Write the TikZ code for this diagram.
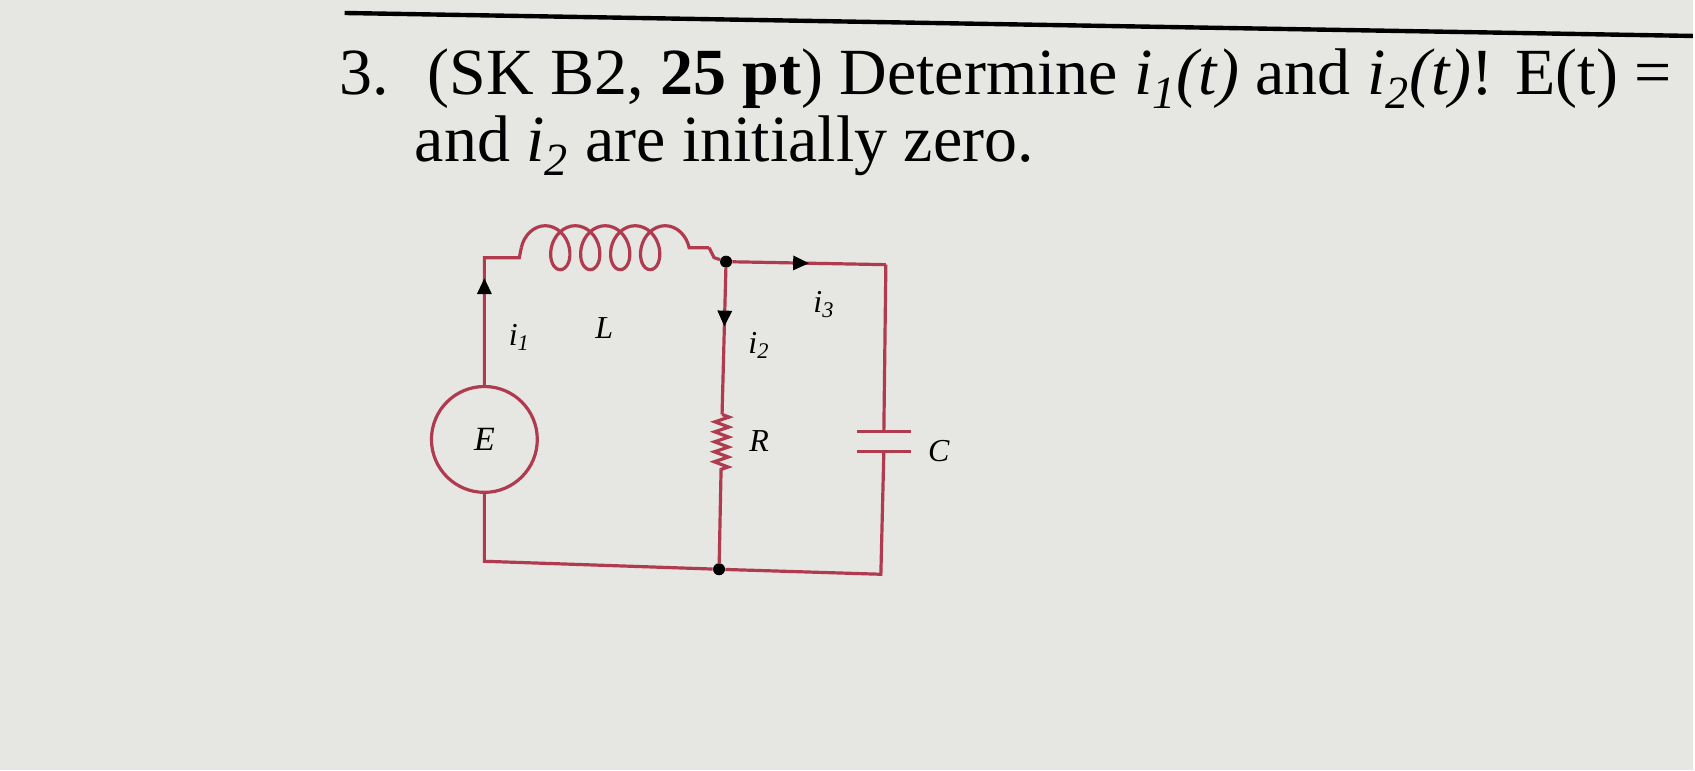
\documentclass[tikz,border=0pt]{standalone}
\usepackage{fontspec}
\setmainfont{Liberation Serif}
\usetikzlibrary{decorations.pathmorphing,arrows.meta,decorations.markings}
\definecolor{wire}{HTML}{B03A4E}
\definecolor{bg}{HTML}{E6E6E2}
\begin{document}
\begin{tikzpicture}[x=0.5pt,y=-0.5pt,
  w/.style={draw=wire,line width=1.6pt},
  lbl/.style={font=\fontsize{16}{18}\selectfont\itshape},
  dot/.style={circle,fill=black,inner sep=0pt,minimum size=6pt},
  arr/.style={postaction={decorate},decoration={markings,mark=at position #1 with {\arrow[black]{Triangle[length=8pt,width=7pt]}}}}]
\fill[bg] (0,0) rectangle (1695,771);
\draw[line width=2.2pt] (345,13) -- (1695,36);
\node[anchor=base west,inner sep=0,font=\fontsize{33}{36}\selectfont] (t1) at (340,95) {3. \ (SK B2, \textbf{25 pt}) Determine \textit{i\textsubscript{1}(t)} and \textit{i\textsubscript{2}(t)}! E(t) =};
\node[anchor=base west,inner sep=0,font=\fontsize{33}{36}\selectfont] (t2) at (415,162) {and \textit{i\textsubscript{2}} are initially zero.};
% nodes
\coordinate (tl) at (485,258);
\coordinate (ls) at (520,258);
\coordinate (cs) at (522,248);
\coordinate (ce) at (710,248);
\coordinate (le) at (715,258);
\node[dot] (nt) at (727,262) {};
\coordinate (tr) at (887,265);
\coordinate (br) at (882,575);
\node[dot] (nb) at (720,570) {};
\coordinate (bl) at (485,562);
\node[circle,draw=wire,line width=1.6pt,minimum size=53pt,inner sep=0,font=\fontsize{17}{18}\selectfont\itshape] (E) at (485,440) {E};
% wires
\draw[w,arr=0.62] (E.north) -- (tl) -- (ls) -- (cs);
\draw[w,decorate,decoration={coil,aspect=0.75,segment length=15pt,amplitude=11pt}] (cs) -- (ce);
\draw[w] (ce) -- (le) -- (nt);
\draw[w,arr=0.5] (nt) -- (tr);
\draw[w] (tr) -- (885,432);
\draw[w] (858,432) -- (912,432);
\draw[w] (858,452) -- (912,452);
\draw[w] (885,452) -- (br) -- (nb) -- (bl) -- (E.south);
\draw[w,arr=0.4] (nt) -- (723,415);
\draw[w,decorate,decoration={zigzag,segment length=5pt,amplitude=3.5pt}] (723,415) -- (722,470);
\draw[w] (722,470) -- (nb);
% labels
\node[lbl] (i1) at (520,338) {i\textsubscript{1}};
\node[lbl] (L) at (605,328) {L};
\node[lbl] (i2) at (760,346) {i\textsubscript{2}};
\node[lbl] (i3) at (825,305) {i\textsubscript{3}};
\node[lbl] (R) at (760,442) {R};
\node[lbl] (C) at (940,452) {C};
\end{tikzpicture}
\end{document}
